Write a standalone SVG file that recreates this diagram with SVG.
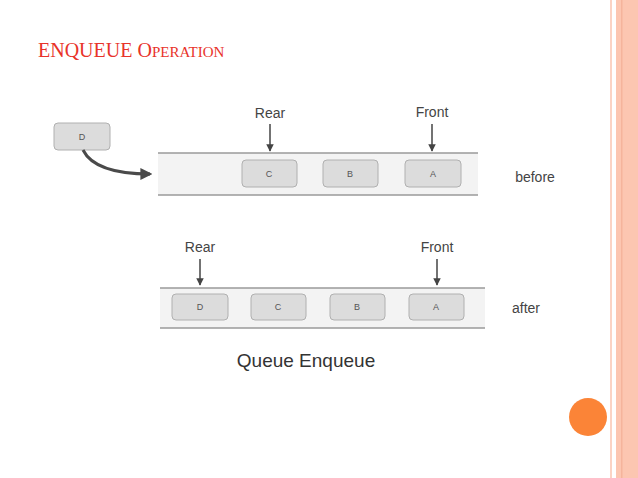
<svg xmlns="http://www.w3.org/2000/svg" width="638" height="478" viewBox="0 0 638 478">
<defs>
<style>
.bar{fill:#f3f3f3;stroke:none}
.edge{stroke:#9a9a9a;stroke-width:1.5}
.box{fill:#dcdcdc;stroke:#b0b0b0;stroke-width:1}
.bt{font-family:"Liberation Sans",Arial,sans-serif;font-size:9px;fill:#555;text-anchor:middle}
.lbl{font-family:"Liberation Sans",Arial,sans-serif;font-size:14px;fill:#444;text-anchor:middle}
.ptr{stroke:#444;stroke-width:1.5;fill:none;marker-end:url(#ah)}
</style>
<marker id="ah" viewBox="0 0 10 10" refX="9" refY="5" markerWidth="5" markerHeight="5" orient="auto"><path d="M0,0L10,5L0,10z" fill="#444"/></marker>
<marker id="ah2" viewBox="0 0 10 10" refX="8" refY="5" markerWidth="4" markerHeight="4" orient="auto"><path d="M0,0L10,5L0,10z" fill="#4a4a4a"/></marker>
</defs>
<rect width="638" height="478" fill="#fff"/>
<rect x="610" y="0" width="2" height="478" fill="#fbd3c4"/>
<rect x="616" y="0" width="22" height="478" fill="#fcc6b1"/>
<rect x="621" y="0" width="1.5" height="478" fill="#f5b49c"/>
<circle cx="588" cy="417" r="19" fill="#fb8437"/>
<text x="38" y="57" font-family="Liberation Serif,serif" fill="#e8332a" font-size="20">ENQUEUE O<tspan font-size="15">PERATION</tspan></text>

<g id="before">
<rect class="bar" x="158" y="153" width="320" height="42"/>
<line class="edge" x1="158" y1="153" x2="478" y2="153"/>
<line class="edge" x1="158" y1="195" x2="478" y2="195"/>
</g>
<g id="nodeD0"><rect class="box" x="54" y="123" width="56" height="27" rx="4"/><text class="bt" x="82" y="140">D</text></g>
<g id="nodeC0"><rect class="box" x="242" y="160" width="55" height="27" rx="4"/><text class="bt" x="269" y="177">C</text></g>
<g id="nodeB0"><rect class="box" x="323" y="160" width="55" height="27" rx="4"/><text class="bt" x="350" y="177">B</text></g>
<g id="nodeA0"><rect class="box" x="405" y="160" width="56" height="27" rx="4"/><text class="bt" x="433" y="177">A</text></g>
<text class="lbl" x="270" y="118">Rear</text>
<text class="lbl" x="432" y="117">Front</text>
<text class="lbl" x="535" y="182" text-anchor="middle">before</text>

<g id="after">
<rect class="bar" x="160" y="288" width="325" height="40"/>
<line class="edge" x1="160" y1="288" x2="485" y2="288"/>
<line class="edge" x1="160" y1="328" x2="485" y2="328"/>
</g>
<g id="nodeD1"><rect class="box" x="172" y="294" width="56" height="26" rx="4"/><text class="bt" x="200" y="310">D</text></g>
<g id="nodeC1"><rect class="box" x="251" y="294" width="55" height="26" rx="4"/><text class="bt" x="278" y="310">C</text></g>
<g id="nodeB1"><rect class="box" x="330" y="294" width="55" height="26" rx="4"/><text class="bt" x="357" y="310">B</text></g>
<g id="nodeA1"><rect class="box" x="409" y="294" width="55" height="26" rx="4"/><text class="bt" x="436" y="310">A</text></g>
<text class="lbl" x="200" y="252">Rear</text>
<text class="lbl" x="437" y="252">Front</text>
<text class="lbl" x="526" y="313">after</text>
<text x="306" y="367" font-family="Liberation Sans,Arial,sans-serif" font-size="19" fill="#333" text-anchor="middle">Queue Enqueue</text>

<g id="connectors">
<path d="M83,150 Q95,174 150,174" stroke="#4a4a4a" stroke-width="3" fill="none" marker-end="url(#ah2)"/>
<line class="ptr" x1="270" y1="124" x2="270" y2="151"/>
<line class="ptr" x1="432" y1="124" x2="432" y2="151"/>
<line class="ptr" x1="200" y1="259" x2="200" y2="285"/>
<line class="ptr" x1="437" y1="259" x2="437" y2="285"/>
</g>
</svg>
